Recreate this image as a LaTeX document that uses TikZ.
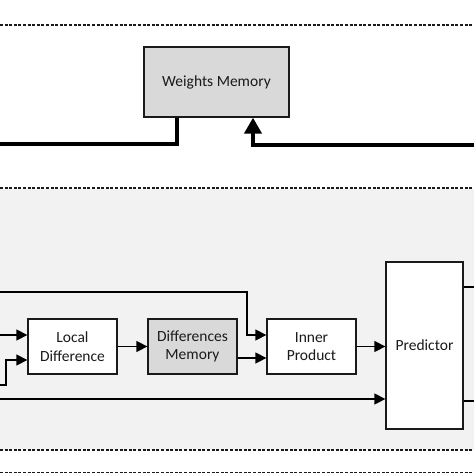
\documentclass[tikz,border=0pt]{standalone}
\usepackage{fontspec}
\setmainfont{Carlito}
\usetikzlibrary{arrows.meta}
\definecolor{bgfill}{HTML}{F2F2F2}
\definecolor{boxgray}{HTML}{D9D9D9}
\definecolor{ink}{HTML}{1A1A1A}
\tikzset{
  blk/.style={draw=ink, line width=1.3pt, fill=white, inner sep=0pt, align=center,
    font=\fontsize{15.5}{18.5}\selectfont, text=ink},
  dotline/.style={draw=ink, line width=1.3pt, dash pattern=on 3pt off 1.6pt},
  wire/.style={draw=black, line width=1.4pt},
  arr/.style={wire, -{Triangle[length=11pt,width=11pt]}},
  thick wire/.style={draw=black, line width=4pt},
  thick arr/.style={thick wire, -{Triangle[length=16pt,width=17pt]}},
}
\begin{document}
\begin{tikzpicture}[x=1pt,y=-1pt]
\useasboundingbox (0,0) rectangle (474,474);
\fill[bgfill] (0,189) rectangle (474,450);
\coordinate (t1a) at (0,25); \coordinate (t1b) at (474,25);
\coordinate (t2a) at (0,188); \coordinate (t2b) at (474,188);
\coordinate (t3a) at (0,450); \coordinate (t3b) at (474,450);
\coordinate (t4a) at (0,472.5); \coordinate (t4b) at (474,472.5);
\draw[dotline] (t1a) -- (t1b);
\draw[dotline] (t2a) -- (t2b);
\draw[dotline] (t3a) -- (t3b);
\draw[dotline] (t4a) -- (t4b);

\node[blk, fill=boxgray, minimum width=145pt, minimum height=70pt] (wm) at (216.5,82) {Weights Memory};
\node[blk, minimum width=89pt, minimum height=55pt] (ld) at (72.5,346.5) {Local\\Difference};
\node[blk, fill=boxgray, minimum width=89pt, minimum height=55pt] (dm) at (192.5,346.5) {Differences\\Memory};
\node[blk, minimum width=89pt, minimum height=55pt] (ip) at (311.5,346.5) {Inner\\Product};
\node[blk, minimum width=77pt, minimum height=167pt] (pr) at (424.5,345.5) {Predictor};

% thick wires at top
\coordinate (wl) at (0,144);
\coordinate (wr) at (474,145);
\draw[thick wire] (wl) -| ([xshift=-39.5pt]wm.south);
\draw[thick arr] (wr) -| ([xshift=36.5pt]wm.south);

% inputs
\coordinate (in1) at (0,292);
\coordinate (in2) at (0,335);
\coordinate (in3) at (0,385);
\coordinate (in4) at (0,399);
\draw[arr] (in1) -| (247,335) -- (ip.west |- 0,335);
\draw[arr] (in2) -- (ld.west |- 0,335);
\draw[arr] (in3) -| (6,360) -- (ld.west |- 0,360);
\draw[arr] (in4) -- (pr.west |- 0,399);
\draw[arr] (ld.east) -- (dm.west);
\draw[arr] (dm.east |- 0,358) -- (ip.west |- 0,358);
\draw[arr] (ip.east) -- (pr.west |- ip.east);
% outputs
\coordinate (o1) at (474,287);
\coordinate (o2) at (474,401);
\draw[wire] (pr.east |- o1) -- (o1);
\draw[wire] (pr.east |- o2) -- (o2);
\end{tikzpicture}
\end{document}
